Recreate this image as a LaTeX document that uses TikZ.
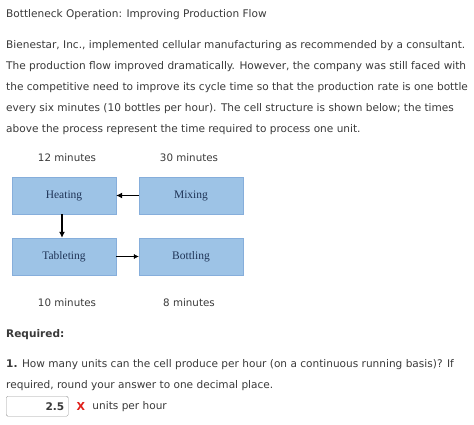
\documentclass[tikz,border=0pt]{standalone}
\usepackage{fontspec}
\setmainfont{DejaVu Sans}
\newfontfamily\boxfont{Liberation Serif}
\usepackage{tikz}
\usetikzlibrary{positioning, arrows.meta}
\definecolor{textgray}{HTML}{3A3A3A}
\definecolor{cellblue}{HTML}{9DC3E6}
\definecolor{cellline}{HTML}{86AEDB}
\definecolor{cellnavy}{HTML}{1F3457}
\definecolor{wrongred}{HTML}{E0201B}
\tikzstyle{cellbox} = [rectangle, fill=cellblue, draw=cellline,
minimum width = 104pt, minimum height = 37pt,
inner sep = 0pt, font=\boxfont\fontsize{11.5}{13}\selectfont, text=cellnavy]
\tikzstyle{timelabel} = [text=textgray, font=\fontsize{10.3}{12}\selectfont,
inner sep = 0pt]
\tikzstyle{bodytext} = [text=textgray, anchor=base west, inner sep = 0pt,
font=\fontsize{10.55}{21}\selectfont]

\begin{document}
\begin{tikzpicture}[x=1pt, y=-1pt]
	\useasboundingbox[fill=white] (0,0) rectangle (474,425);
	%% Header and problem text
	\node[bodytext] (title) at (6,18) {Bottleneck Operation: Improving Production Flow};
	\node[bodytext, align=left, anchor=north west] (story) at (6,40) {
		Bienestar, Inc., implemented cellular manufacturing as recommended by a consultant.\\
		The production flow improved dramatically. However, the company was still faced with\\
		the competitive need to improve its cycle time so that the production rate is one bottle\\
		every six minutes (10 bottles per hour). The cell structure is shown below; the times\\
		above the process represent the time required to process one unit.
	};
	%% Cell structure
	\node[cellbox] (heating) at (64,195.5) {Heating};
	\node[cellbox] (mixing) at (191,195.5) {Mixing};
	\node[cellbox] (tableting) at (64,256.5) {Tableting};
	\node[cellbox] (bottling) at (191,256.5) {Bottling};
	\node[timelabel] (tHeat) at (67,158) {12 minutes};
	\node[timelabel] (tMix) at (189,158) {30 minutes};
	\node[timelabel] (tTab) at (67,303) {10 minutes};
	\node[timelabel] (tBott) at (189,303) {8 minutes};
	%% Flow between processes
	\draw[-{Latex[length=6pt, width=6pt]}, line width=1pt] (mixing) -- (heating);
	\draw[-{Latex[length=6pt, width=6pt]}, line width=1.4pt] (heating.south -| 62,0) -- (tableting.north -| 62,0);
	\draw[-{Latex[length=5pt, width=5pt]}, line width=0.6pt] (tableting) -- (bottling);
	%% Question and answer
	\node[bodytext, font=\fontsize{10.55}{12}\selectfont\bfseries] (req) at (6,337) {Required:};
	\node[bodytext, align=left, anchor=north west] (question) at (6,359) {
		\textbf{1.} How many units can the cell produce per hour (on a continuous running basis)? If\\
		required, round your answer to one decimal place.
	};
	\node[draw=gray!80, rounded corners=1.5pt, minimum width=62pt, minimum height=20pt,
		inner sep=0pt, anchor=north west] (answer) at (6,396) {};
	\node[text=textgray, font=\fontsize{10.55}{12}\selectfont\bfseries, anchor=east,
		inner sep=0pt] (value) at ([xshift=-4pt]answer.east) {2.5};
	\node[text=wrongred, font=\fontsize{11}{12}\selectfont\bfseries, right=8pt of answer,
		inner sep=0pt] (mark) {X};
	\node[text=textgray, font=\fontsize{10.55}{12}\selectfont, right=7pt of mark,
		inner sep=0pt] (unit) {units per hour};
\end{tikzpicture}
\end{document}
